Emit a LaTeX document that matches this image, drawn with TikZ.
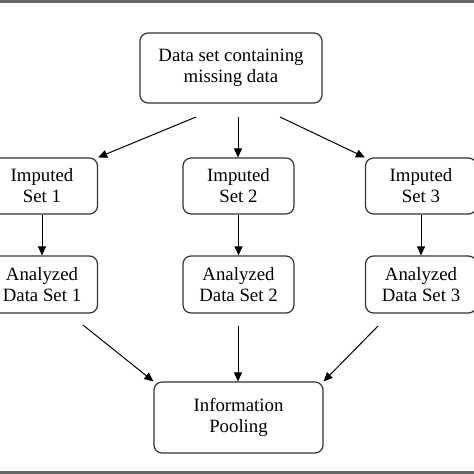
\documentclass[tikz,border=0pt]{standalone}
\usepackage{fontspec}
\setmainfont{Liberation Serif}
\usetikzlibrary{arrows.meta,calc}

\tikzset{
  stage/.style={draw=black!80,line width=1.2pt,rounded corners=8pt,align=center,
    inner sep=0pt,font=\fontsize{18.8}{21}\selectfont},
  arr/.style={line width=1pt,-{Triangle[length=9pt,width=8pt]}}
}

\begin{document}
\begin{tikzpicture}[x=1pt,y=-1pt]
    \useasboundingbox (0,0) rectangle (474,474);
    \clip (0,0) rectangle (474,474);
    \fill[black!60] (0,0) rectangle (474,3);
    \fill[black!60] (0,471) rectangle (474,474);

    \coordinate (src) at (231,68);
    \coordinate (i1) at (42,186);
    \coordinate (i2) at (238.5,186);
    \coordinate (i3) at (421,186);
    \coordinate (a1) at (42,284.5);
    \coordinate (a2) at (238.5,284.5);
    \coordinate (a3) at (421,284.5);
    \coordinate (pl) at (238.5,417.5);

    \node (S) [stage,minimum width=182pt,minimum height=70pt] at (src) {Data set containing\\missing data};

    \node (I1) [stage,minimum width=111pt,minimum height=56pt] at (i1) {Imputed\\Set 1};
    \node (I2) [stage,minimum width=111pt,minimum height=56pt] at (i2) {Imputed\\Set 2};
    \node (I3) [stage,minimum width=111pt,minimum height=56pt] at (i3) {Imputed\\Set 3};

    \node (A1) [stage,minimum width=111pt,minimum height=57pt] at (a1) {Analyzed\\Data Set 1};
    \node (A2) [stage,minimum width=111pt,minimum height=57pt] at (a2) {Analyzed\\Data Set 2};
    \node (A3) [stage,minimum width=111pt,minimum height=57pt] at (a3) {Analyzed\\Data Set 3};

    \node (P) [stage,minimum width=169pt,minimum height=71pt] at (pl) {Information\\Pooling};

    \coordinate (s1) at (196,117);
    \coordinate (s2) at (238,117);
    \coordinate (s3) at (280,117);
    \coordinate (p1) at (83,325);
    \coordinate (p2) at (238,326);
    \coordinate (p3) at (378,326);

    \draw[arr] (s1) -- (I1.north east);
    \draw[arr] (s2) -- (s2 |- I2.north);
    \draw[arr] (s3) -- (I3.north west);

    \draw[arr] (I1) -- (A1);
    \draw[arr] (I2) -- (A2);
    \draw[arr] (I3) -- (A3);

    \draw[arr] (p1) -- (P.north west);
    \draw[arr] (p2) -- (p2 |- P.north);
    \draw[arr] (p3) -- (P.north east);
\end{tikzpicture}
\end{document}
